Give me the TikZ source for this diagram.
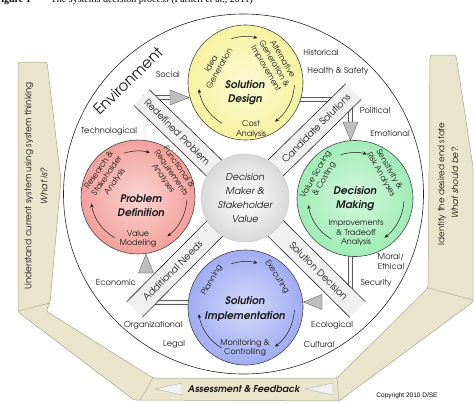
\documentclass[tikz,border=0pt]{standalone}
\usepackage{fontspec}
\setmainfont{texgyreadventor}[Extension=.otf,UprightFont=*-regular,BoldFont=*-bold,ItalicFont=*-italic,BoldItalicFont=*-bolditalic]
\newfontfamily\serifx{Liberation Serif}
\newfontfamily\arialx{Liberation Sans}
\usetikzlibrary{calc,arrows.meta}
\definecolor{beige}{RGB}{233,229,205}
\definecolor{beigeline}{RGB}{170,165,140}
\definecolor{ylw}{RGB}{247,242,160}
\definecolor{grn}{RGB}{160,236,182}
\definecolor{rd}{RGB}{242,160,155}
\definecolor{blu}{RGB}{160,172,242}
\definecolor{ink}{RGB}{30,30,30}
\tikzset{
  envlab/.style={font=\fontsize{8.2}{10}\selectfont, inner sep=0pt, text=ink, align=center},
  inlab/.style={font=\fontsize{8}{9.6}\selectfont, inner sep=0pt, align=center, text=ink},
  ctitle/.style={font=\fontsize{10.5}{14.5}\selectfont\bfseries\itshape, inner sep=0pt, align=center, text=ink},
  bandlab/.style={font=\fontsize{9.5}{10}\selectfont, inner sep=0pt, text=ink},
  cyc/.style={-{Stealth[length=4pt,width=3.4pt]}, line width=0.5pt, draw=ink},
  flow/.style={draw=gray!70!black, double=gray!6, double distance=3.2pt, line width=0.55pt},
  ahead/.style={fill=gray!50, draw=gray!55!black, line width=0.3pt},
  bandfill/.style={fill=gray!12},
  bandedge/.style={draw=gray!30!black, line width=0.6pt},
  procc/.style={circle, draw=gray!55!black, line width=0.6pt, inner sep=0pt, minimum size=115pt},
  btxt/.style={font=\fontsize{9}{10}\selectfont, inner sep=0pt, text=ink},
  tri/.style={draw=gray!60, fill=gray!12, line width=0.4pt},
}
\newcommand\cycarrows[1]{%
  \draw[cyc] ($(#1)+(-108:46)$) arc[start angle=-108,end angle=-75,radius=46];
  \draw[cyc] ($(#1)+(3:49)$) arc[start angle=3,end angle=53,radius=49];
  \draw[cyc] ($(#1)+(120:47)$) arc[start angle=120,end angle=172,radius=47];
}
\newcommand\drawband[2]{%
  \fill[bandfill] ($(#1)!11pt!90:(#2)$) -- ($(#1)!11pt!-90:(#2)$) -- ($(#2)!11pt!90:(#1)$) -- ($(#2)!11pt!-90:(#1)$) -- cycle;
  \draw[bandedge] ($(#1)!11pt!90:(#2)$) -- ($(#2)!11pt!-90:(#1)$);
  \draw[bandedge] ($(#1)!11pt!-90:(#2)$) -- ($(#2)!11pt!90:(#1)$);
}
\begin{document}
\begin{tikzpicture}[x=1pt,y=-1pt]
\useasboundingbox (0,0) rectangle (474,402);
\fill[white] (0,0) rectangle (474,402);
\node[anchor=base west, inner sep=0pt, font=\serifx\fontsize{10}{12}\selectfont] (title) at (-5,2.6) {\textbf{Figure 1}\hspace{2em}The systems decision process (Parnell et al., 2011)};

% beige loop
\draw[beigeline, fill=beige, line width=0.5pt, rounded corners=2.5pt]
 (47,62) -- (18,62) -- (18,312) -- (134,400) -- (339,401) -- (473,302) -- (473,167) -- (456,55) -- (430,55)
 -- (428,288) -- (337,378) -- (153,378) -- (46,311) -- (50,303) -- (61,180) -- cycle;
\draw[beigeline, line width=0.4pt] (18,311) -- (50,303);
\draw[beigeline, line width=0.4pt] (153,378) -- (140,400);
\draw[beigeline, line width=0.4pt] (337,378) -- (339,401);
\draw[beigeline, line width=0.4pt] (428,288) -- (473,300);
\node[btxt, rotate=90] (ucs) at (29,186) {Understand current system using system thinking};
\node[btxt, rotate=90] (whatis) at (44,186) {\itshape What is?};
\node[btxt, font=\fontsize{8.7}{10}\selectfont, rotate=90] (ide) at (442,184) {Identify the desired end state};
\node[btxt, font=\fontsize{8.7}{10}\selectfont, rotate=90] (wsb) at (455,183) {\itshape What should be?};
\node[font=\fontsize{9.5}{10}\selectfont\bfseries\itshape, inner sep=0pt, text=ink] (af) at (244,389) {Assessment \& Feedback};
\draw[tri] (182,383) -- (155,389) -- (182,395) -- cycle;
\draw[tri] (333,383) -- (305,389) -- (333,395) -- cycle;
\node[font=\arialx\fontsize{6.5}{7}\selectfont, inner sep=0pt] (copy) at (407,396) {Copyright 2010 D/SE};

% environment circle
\node[circle, draw=gray!30!black, line width=0.6pt, minimum size=360pt, inner sep=0pt] (envc) at (243.5,194) {};
\node[font=\fontsize{15}{16}\selectfont, rotate=44, inner sep=0pt, text=ink] (env) at (128,81) {Environment};
\node[envlab] (l1) at (168,74) {Social};
\node[envlab] (l2) at (109,131) {Technological};
\node[envlab] (l3) at (321,53) {Historical};
\node[envlab] (l4) at (338,71) {Health \& Safety};
\node[envlab] (l5) at (375,111) {Political};
\node[envlab] (l6) at (390,134) {Emotional};
\node[envlab] (l7) at (391,262) {Moral/\\Ethical};
\node[envlab] (l8) at (376,283) {Security};
\node[envlab] (l9) at (332,325) {Ecological};
\node[envlab] (l10) at (319,344) {Cultural};
\node[envlab] (l11) at (153,325) {Organizational};
\node[envlab] (l12) at (174,344) {Legal};
\node[envlab] (l13) at (116,283) {Economic};

\coordinate (C) at (245,198);
\coordinate (B1) at (141.5,97.5);
\coordinate (B2) at (353.5,91.5);
\coordinate (B3) at (357.5,309.5);
\coordinate (B4) at (134.5,309.5);
\coordinate (K1) at (145,97.5);
\coordinate (K2) at (350.5,99.5);
\coordinate (K3) at (350.5,302);
\coordinate (K4) at (146,302.5);

% flow arrows
\draw[flow] (145,150) -- (K1) -- (170,97.5);
\draw[ahead] (170,90) -- (189,97.5) -- (170,105) -- cycle;
\draw[flow] (295,99.5) -- (K2) -- (350.5,122);
\draw[ahead] (343,122) -- (350.5,140.5) -- (358,122) -- cycle;
\draw[flow] (350.5,250) -- (K3) -- (322,302);
\draw[ahead] (322,294.5) -- (303.5,302) -- (322,309.5) -- cycle;
\draw[flow] (195,302.5) -- (K4) -- (146,273);
\draw[ahead] (138.5,273) -- (146,254.5) -- (153.5,273) -- cycle;

% bands
\drawband{B1}{C}
\drawband{B2}{C}
\drawband{B3}{C}
\drawband{B4}{C}
\node[bandlab, rotate=-45] (bt1) at ($(C)!0.655!(B1)$) {Redefined Problem};
\node[bandlab, rotate=45] (bt2) at ($(C)!0.655!(B2)$) {Candidate Solutions};
\node[bandlab, rotate=-45] (bt3) at ($(C)!0.655!(B3)$) {Solution Decision};
\node[bandlab, rotate=45] (bt4) at ($(C)!0.655!(B4)$) {Additional Needs};

% process circles
\node[procc, inner color=ylw!45!white, outer color=ylw] (sd) at (245.5,82.5) {};
\node[procc, minimum size=116pt, inner color=grn!45!white, outer color=grn] (dmk) at (355,198.5) {};
\node[procc, minimum size=114pt, inner color=rd!45!white, outer color=rd] (pd) at (138,197) {};
\node[procc, inner color=blu!45!white, outer color=blu] (si) at (245.5,307.5) {};
\node[circle, inner sep=0pt, minimum size=88pt, draw=gray!45, line width=0.4pt, inner color=white, outer color=gray!30, font=\fontsize{9.5}{14}\selectfont\itshape, align=center, text=ink] (dm) at (245,198) {Decision\\Maker \&\\Stakeholder\\Value};

% Solution Design
\node[ctitle] (sdt) at (245,92.5) {Solution\\Design};
\node[inlab, rotate=60] (sd1) at (215,66) {Idea\\Generation};
\node[inlab, rotate=-60] (sd2) at (274,64) {Alternative\\Generation \&\\Improvement};
\node[inlab] (sd3) at (251,129) {Cost\\Analysis};
\cycarrows{sd}

% Decision Making
\node[ctitle] (dmt) at (355,198.5) {Decision\\Making};
\node[inlab, rotate=60] (dm1) at (320,177) {Value Scoring\\\& Costing};
\node[inlab, rotate=-60] (dm2) at (385,172) {Sensitivity \&\\Risk Analyses};
\node[inlab] (dm3) at (356,233) {Improvements\\\& Tradeoff\\Analysis};
\cycarrows{dmk}

% Problem Definition
\node[ctitle] (pdt) at (141,205.5) {Problem\\Definition};
\node[inlab, rotate=55] (pd1) at (107,176) {Research \&\\Stakeholder\\Analysis};
\node[inlab, rotate=-55] (pd2) at (171,173) {Functional \&\\Requirements\\Analyses};
\node[inlab] (pd3) at (138,239) {Value\\Modeling};
\cycarrows{pd}

% Solution Implementation
\node[ctitle] (sit) at (245,309) {Solution\\Implementation};
\node[inlab, rotate=60] (si1) at (212,280) {Planning};
\node[inlab, rotate=-57] (si2) at (277,277) {Executing};
\node[inlab] (si3) at (245,348) {Monitoring \&\\Controlling};
\cycarrows{si}
\end{tikzpicture}
\end{document}
